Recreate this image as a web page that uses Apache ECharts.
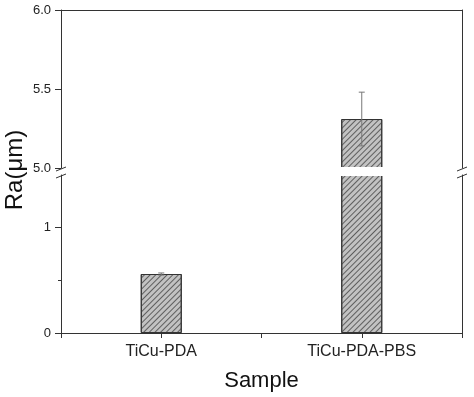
<!DOCTYPE html>
<html>
<head>
<meta charset="utf-8">
<script src="https://cdn.jsdelivr.net/npm/echarts@6/dist/echarts.min.js"></script>
<style>
  html, body { margin: 0; padding: 0; background: #fff; }
  #chart { width: 474px; height: 397px; }
</style>
</head>
<body>
<div id="chart"></div>
<script>
const categories = ['TiCu-PDA', 'TiCu-PDA-PBS']
const raMean = [0.56, 5.31]
const raErr = [0.01, 0.17]
const lowerTicks = [0, 1]
const lowerMinorTicks = [0.5]

// layout of the two stacked grids (broken y axis)
const W = 474
const L = 61
const R = 12
const upTop = 10
const upBottom = 168
const lowTop = 175
const lowBottom = 333

const font = 'Liberation Sans, Arial, sans-serif'
const ink = '#222'
const xPos = i => 2 * i + 1
const barData = categories.map((c, i) => [xPos(i), raMean[i]])
const errData = categories.map((c, i) => [xPos(i), raMean[i] - raErr[i], raMean[i] + raErr[i]])

const barStyle = {
  color: '#c2c2c2',
  borderColor: '#333',
  borderWidth: 1,
  decal: {
    symbol: 'rect',
    symbolSize: 1,
    color: '#5e5e5e',
    dashArrayX: [1, 0],
    dashArrayY: [1, 2.6],
    rotation: -Math.PI / 4
  }
}

function renderErr(params, api) {
  const x = api.value(0)
  const lo = api.coord([x, api.value(1)])
  const hi = api.coord([x, api.value(2)])
  const cap = 3
  const st = { stroke: '#777', lineWidth: 1 }
  return {
    type: 'group',
    children: [
      { type: 'line', shape: { x1: hi[0], y1: hi[1], x2: lo[0], y2: lo[1] }, style: st },
      { type: 'line', shape: { x1: hi[0] - cap, y1: hi[1], x2: hi[0] + cap, y2: hi[1] }, style: st },
      { type: 'line', shape: { x1: lo[0] - cap, y1: lo[1], x2: lo[0] + cap, y2: lo[1] }, style: st }
    ]
  }
}

const xLabel = v => {
  const i = (v - 1) / 2
  return Number.isInteger(i) && categories[i] ? categories[i] : ''
}

const axisLine = { show: true, lineStyle: { color: '#333', width: 1 } }
const tickStyle = { color: '#333' }

function breakMarks(x) {
  return [upBottom + 1, lowTop + 1].map(y => ({
    type: 'line',
    z: 101,
    shape: { x1: x - 5, y1: y + 2, x2: x + 5, y2: y - 2 },
    style: { stroke: '#333', lineWidth: 1 }
  }))
}

const chart = echarts.init(document.getElementById('chart'))
chart.setOption({
  animation: false,
  textStyle: { fontFamily: font, color: ink },
  grid: [
    { left: L, right: R, top: upTop, height: upBottom - upTop, outerBoundsMode: 'none' },
    { left: L, right: R, top: lowTop, height: lowBottom - lowTop, outerBoundsMode: 'none' }
  ],
  xAxis: [{
    gridIndex: 0,
    type: 'value',
    min: 0,
    max: 4,
    position: 'top',
    axisLine,
    axisTick: { show: false },
    axisLabel: { show: false },
    splitLine: { show: false }
  }, {
    gridIndex: 1,
    type: 'value',
    min: 0,
    max: 4,
    interval: 1,
    position: 'bottom',
    axisLine,
    axisTick: { inside: false, length: 5, lineStyle: tickStyle },
    axisLabel: { formatter: xLabel, fontSize: 16, margin: 11, color: ink },
    splitLine: { show: false },
    name: 'Sample',
    nameLocation: 'middle',
    nameGap: 37,
    nameTextStyle: { fontSize: 22, color: '#111' }
  }],
  yAxis: [{
    gridIndex: 0,
    type: 'value',
    min: 5,
    max: 6,
    interval: 0.5,
    position: 'left',
    axisLine,
    axisTick: { inside: false, length: 6, lineStyle: tickStyle },
    axisLabel: { formatter: v => v.toFixed(1), fontSize: 13, margin: 10, color: ink },
    splitLine: { show: false }
  }, {
    gridIndex: 0,
    type: 'value',
    min: 5,
    max: 6,
    position: 'right',
    axisLine,
    axisTick: { show: false },
    axisLabel: { show: false },
    splitLine: { show: false }
  }, {
    gridIndex: 1,
    type: 'value',
    min: 0,
    max: 1.5,
    interval: 0.5,
    position: 'left',
    axisLine,
    axisTick: { inside: false, length: 6, customValues: lowerTicks, lineStyle: tickStyle },
    axisLabel: { customValues: lowerTicks, fontSize: 13, margin: 10, color: ink },
    splitLine: { show: false }
  }, {
    gridIndex: 1,
    type: 'value',
    min: 0,
    max: 1.5,
    position: 'left',
    offset: 0,
    axisLine: { show: false },
    axisTick: { inside: false, length: 3, customValues: lowerMinorTicks, lineStyle: tickStyle },
    axisLabel: { show: false },
    splitLine: { show: false }
  }, {
    gridIndex: 1,
    type: 'value',
    min: 0,
    max: 1.5,
    position: 'right',
    axisLine,
    axisTick: { show: false },
    axisLabel: { show: false },
    splitLine: { show: false }
  }],
  series: [{
    type: 'bar',
    xAxisIndex: 0,
    yAxisIndex: 0,
    barWidth: 41,
    clip: true,
    itemStyle: barStyle,
    data: barData
  }, {
    type: 'bar',
    xAxisIndex: 1,
    yAxisIndex: 2,
    barWidth: 41,
    clip: true,
    itemStyle: barStyle,
    data: barData
  }, {
    type: 'custom',
    xAxisIndex: 0,
    yAxisIndex: 0,
    clip: true,
    z: 3,
    renderItem: renderErr,
    data: errData
  }, {
    type: 'custom',
    xAxisIndex: 1,
    yAxisIndex: 2,
    clip: true,
    z: 3,
    renderItem: renderErr,
    data: errData
  }],
  graphic: [
    {
      type: 'rect',
      z: 100,
      shape: { x: L + 1, y: upBottom - 1, width: W - R - L - 2, height: lowTop - upBottom + 2 },
      style: { fill: '#fff' }
    },
    ...breakMarks(L),
    ...breakMarks(W - R),
    {
      type: 'text',
      z: 101,
      x: 15,
      y: 170,
      rotation: Math.PI / 2,
      style: { text: 'Ra(μm)', fontSize: 24, fontFamily: font, fill: '#111', align: 'center', verticalAlign: 'middle' }
    }
  ]
})
</script>
</body>
</html>
